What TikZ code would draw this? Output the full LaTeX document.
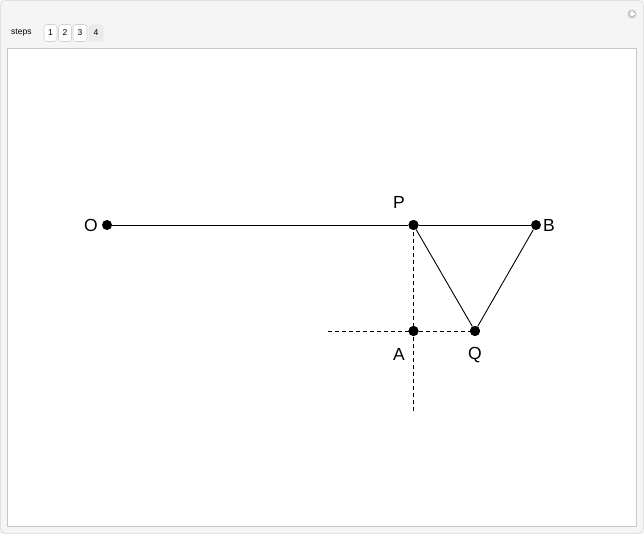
\documentclass[tikz,border=0pt]{standalone}
\usepackage{fontspec}
\setmainfont{Liberation Sans}
\begin{document}
\begin{tikzpicture}[x=1pt,y=-1pt,
  dot/.style={circle,fill=black,inner sep=0pt,minimum size=10pt},
  lbl/.style={font=\fontsize{17.5}{19}\selectfont,inner sep=0pt},
  seg/.style={line width=0.9pt},
  dsh/.style={line width=0.8pt,dash pattern=on 4pt off 3pt},
  btn/.style={draw=black!18,fill=white,rounded corners=3pt,line width=0.6pt,font=\fontsize{8.5}{9}\selectfont}]
\useasboundingbox (0,0) rectangle (644,534);
\fill[black!4] (0,0) rectangle (644,534);
\draw[black!12,line width=0.8pt,rounded corners=5pt] (0.5,0.5) rectangle (643.5,533.5);
\draw[black!22,fill=white,line width=0.8pt] (7.5,48.5) rectangle (636.5,526.5);
% controls
\node[font=\fontsize{8.5}{9}\selectfont,anchor=west,inner sep=0pt] (steps) at (11,32.5) {steps};
\node[btn,minimum width=13pt,minimum height=17pt] (b1) at (50.5,33) {1};
\node[btn,minimum width=13pt,minimum height=17pt] (b2) at (65,33) {2};
\node[btn,minimum width=14pt,minimum height=17pt] (b3) at (80,33) {3};
\node[draw=none,fill=black!8,rounded corners=3pt,minimum width=15pt,minimum height=17pt,font=\fontsize{8.5}{9}\selectfont] (b4) at (96,33) {4};
\node[circle,fill=black!22,inner sep=0pt,minimum size=9pt] (plus) at (632,14) {};
\draw[white,line width=1.2pt] (629.5,14) -- (634.5,14) (632,11.5) -- (632,16.5);
% geometry
\node[dot] (O) at (107,225) {};
\node[dot] (P) at (413.5,225) {};
\node[dot] (B) at (536,225) {};
\node[dot] (A) at (413.5,331) {};
\node[dot] (Q) at (475,331) {};
\coordinate (Aend) at (413.5,412);
\coordinate (Hstart) at (328,331);
\draw[seg] (O) -- (P) -- (B);
\draw[seg] (P) -- (Q) -- (B);
\draw[dsh] (P.center) -- (Aend);
\draw[dsh] (Hstart) -- (Q.center);
\node[dot] at (P) {};
\node[dot] at (A) {};
\node[dot] at (Q) {};
\node[lbl] (Ol) at (91,225) {O};
\node[lbl] (Pl) at (399,202) {P};
\node[lbl] (Bl) at (549,225) {B};
\node[lbl] (Al) at (399,354) {A};
\node[lbl] (Ql) at (475,355) {Q};
\end{tikzpicture}
\end{document}
